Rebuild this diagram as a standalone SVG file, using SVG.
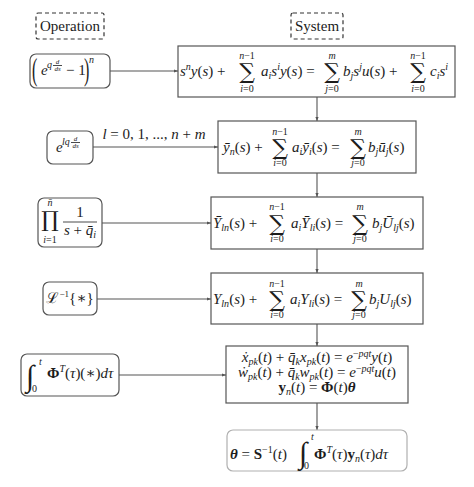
<svg xmlns="http://www.w3.org/2000/svg" width="474" height="487" viewBox="0 0 474 487">
<style>
text{font-family:'Liberation Serif','DejaVu Serif',serif;fill:#1c1c1c}
.m{font-size:15px}
.i{font-style:italic}
.s{font-size:10px}
.t{font-size:7px}
.lim{font-size:10px;text-anchor:middle}
.big{font-family:'DejaVu Serif',serif;font-size:22px;text-anchor:middle}
.int{font-size:30px}
.b{font-weight:bold}
.bi{font-weight:bold;font-style:italic}
.box{fill:#fff;stroke:#555;stroke-width:1.2}
.op{fill:#fff;stroke:#555;stroke-width:1.2}
.dash{fill:none;stroke:#333;stroke-width:1.2;stroke-dasharray:4 3}
.fin{fill:#fff;stroke:#b0b0b0;stroke-width:1.2}
.c{fill:none;stroke:#555;stroke-width:1.1}
.bar{stroke:#1c1c1c;stroke-width:0.8}
</style>
<defs>
<marker id="ah" viewBox="0 0 6 6" refX="6" refY="3" markerWidth="4" markerHeight="4" orient="auto" markerUnits="userSpaceOnUse">
<path d="M0,0.6 L6,3 L0,5.4 Z" fill="#555"/>
</marker>
</defs>
<rect width="474" height="487" fill="#fff"/>

<g id="connectors">
<line class="c" x1="110" y1="71" x2="178" y2="71" marker-end="url(#ah)"/>
<line class="c" x1="93" y1="147" x2="218" y2="147" marker-end="url(#ah)"/>
<line class="c" x1="102" y1="223" x2="211" y2="223" marker-end="url(#ah)"/>
<line class="c" x1="97" y1="299" x2="211" y2="299" marker-end="url(#ah)"/>
<line class="c" x1="119" y1="375" x2="226" y2="375" marker-end="url(#ah)"/>
<line class="c" x1="317" y1="97" x2="317" y2="121" marker-end="url(#ah)"/>
<line class="c" x1="317" y1="173" x2="317" y2="197" marker-end="url(#ah)"/>
<line class="c" x1="317" y1="249" x2="317" y2="273" marker-end="url(#ah)"/>
<line class="c" x1="317" y1="324" x2="317" y2="346" marker-end="url(#ah)"/>
<line class="c" x1="317" y1="403" x2="317" y2="430" marker-end="url(#ah)"/>
<text class="m" x="154" y="139" text-anchor="middle"><tspan class="i">l</tspan> = 0, 1, ..., <tspan class="i">n</tspan> + <tspan class="i">m</tspan></text>
</g>

<g id="title-operation">
<rect class="dash" x="36" y="13" width="68" height="26" rx="2"/>
<text class="m" x="70" y="31" text-anchor="middle" font-size="14.5">Operation</text>
</g>
<g id="title-system">
<rect class="dash" x="291" y="13" width="52" height="26" rx="2"/>
<text class="m" x="317" y="31" text-anchor="middle" font-size="14.5">System</text>
</g>

<g id="op1">
<rect class="op" x="30" y="54" width="80" height="34" rx="6"/>
<text font-size="32" transform="translate(32,80) scale(0.5,1)">(</text>
<text class="m i" x="41" y="75">e</text>
<text class="s i" x="47" y="68">q</text>
<text class="t i" x="57.5" y="63.5" text-anchor="middle">d</text>
<line class="bar" x1="53" y1="65.5" x2="62" y2="65.5"/>
<text class="t i" x="57.5" y="71" text-anchor="middle">ds</text>
<text class="m" x="66" y="75">− 1</text>
<text font-size="32" transform="translate(84,80) scale(0.5,1)">)</text>
<text class="s i" x="89" y="63">n</text>
</g>

<g id="op2">
<rect class="op" x="47" y="131" width="46" height="33" rx="6"/>
<text class="m i" x="56" y="152">e</text>
<text class="s i" x="62" y="145">lq</text>
<text class="t i" x="75.5" y="140.5" text-anchor="middle">d</text>
<line class="bar" x1="71" y1="142.5" x2="80" y2="142.5"/>
<text class="t i" x="75.5" y="148" text-anchor="middle">ds</text>
</g>

<g id="op3">
<rect class="op" x="38" y="198" width="64" height="49" rx="6"/>
<text class="big" x="50" y="227">∏</text>
<text class="lim i" x="50" y="206" font-size="9">n̄</text>
<text class="lim" x="50" y="243" font-size="9"><tspan class="i">i</tspan>=1</text>
<text class="m" x="80" y="217" text-anchor="middle">1</text>
<line class="bar" x1="63" y1="222" x2="97" y2="222"/>
<text class="m" x="80" y="235" text-anchor="middle"><tspan class="i">s</tspan> + <tspan class="i">q̄</tspan><tspan class="s i" dy="3">i</tspan></text>
</g>

<g id="op4">
<rect class="op" x="43" y="282" width="54" height="33" rx="6"/>
<text class="m" x="70" y="303" text-anchor="middle">ℒ<tspan font-size="9" dy="-6">−1</tspan><tspan dy="6">{∗}</tspan></text>
</g>

<g id="op5">
<rect class="op" x="21" y="354" width="98" height="42" rx="6"/>
<text class="int" x="26" y="386">∫</text>
<text class="s i" x="39" y="365">t</text>
<text class="s" x="32" y="392">0</text>
<text class="m" x="47" y="378"><tspan class="b">Φ</tspan><tspan class="s i" dy="-6">T</tspan><tspan dy="6">(</tspan><tspan class="i">τ</tspan>)(∗)<tspan class="i">dτ</tspan></text>
</g>

<g id="sys1">
<rect class="box" x="178" y="46" width="277" height="51"/>
<text class="m" x="180" y="76"><tspan class="i">s</tspan><tspan class="s i" dy="-6">n</tspan><tspan class="i" dy="6">y</tspan>(<tspan class="i">s</tspan>) +</text>
<text class="big" x="247" y="79">∑</text>
<text class="lim" x="247" y="59"><tspan class="i">n</tspan>−1</text>
<text class="lim" x="247" y="92"><tspan class="i">i</tspan>=0</text>
<text class="m" x="261" y="76"><tspan class="i">a</tspan><tspan class="s i" dy="3">i</tspan><tspan class="i" dy="-3">s</tspan><tspan class="s i" dy="-6">i</tspan><tspan class="i" dy="6">y</tspan>(<tspan class="i">s</tspan>) =</text>
<text class="big" x="332" y="79">∑</text>
<text class="lim i" x="332" y="59">m</text>
<text class="lim" x="332" y="92"><tspan class="i">j</tspan>=0</text>
<text class="m" x="343" y="76"><tspan class="i">b</tspan><tspan class="s i" dy="3">j</tspan><tspan class="i" dy="-3">s</tspan><tspan class="s i" dy="-6">j</tspan><tspan class="i" dy="6">u</tspan>(<tspan class="i">s</tspan>) +</text>
<text class="big" x="418" y="79">∑</text>
<text class="lim" x="418" y="59"><tspan class="i">n</tspan>−1</text>
<text class="lim" x="418" y="92"><tspan class="i">i</tspan>=0</text>
<text class="m" x="430" y="76"><tspan class="i">c</tspan><tspan class="s i" dy="3">i</tspan><tspan class="i" dy="-3">s</tspan><tspan class="s i" dy="-6">i</tspan></text>
</g>

<g id="sys2">
<rect class="box" x="218" y="121" width="198" height="52"/>
<text class="m" x="223" y="152"><tspan class="i">ȳ</tspan><tspan class="s i" dy="3">n</tspan><tspan dy="-3">(</tspan><tspan class="i">s</tspan>) +</text>
<text class="big" x="280" y="155">∑</text>
<text class="lim" x="280" y="135"><tspan class="i">n</tspan>−1</text>
<text class="lim" x="280" y="166"><tspan class="i">i</tspan>=0</text>
<text class="m" x="292" y="152"><tspan class="i">a</tspan><tspan class="s i" dy="3">i</tspan><tspan class="i" dy="-3">ȳ</tspan><tspan class="s i" dy="3">i</tspan><tspan dy="-3">(</tspan><tspan class="i">s</tspan>) =</text>
<text class="big" x="358" y="155">∑</text>
<text class="lim i" x="358" y="135">m</text>
<text class="lim" x="358" y="166"><tspan class="i">j</tspan>=0</text>
<text class="m" x="368" y="152"><tspan class="i">b</tspan><tspan class="s i" dy="3">j</tspan><tspan class="i" dy="-3">ū</tspan><tspan class="s i" dy="3">j</tspan><tspan dy="-3">(</tspan><tspan class="i">s</tspan>)</text>
</g>

<g id="sys3">
<rect class="box" x="211" y="197" width="212" height="52"/>
<text class="m" x="213" y="228"><tspan class="i">Ȳ</tspan><tspan class="s i" dy="3">ln</tspan><tspan dy="-3">(</tspan><tspan class="i">s</tspan>) +</text>
<text class="big" x="277" y="231">∑</text>
<text class="lim" x="277" y="210"><tspan class="i">n</tspan>−1</text>
<text class="lim" x="277" y="242"><tspan class="i">i</tspan>=0</text>
<text class="m" x="291" y="228"><tspan class="i">a</tspan><tspan class="s i" dy="3">i</tspan><tspan class="i" dy="-3">Ȳ</tspan><tspan class="s i" dy="3">li</tspan><tspan dy="-3">(</tspan><tspan class="i">s</tspan>) =</text>
<text class="big" x="360" y="231">∑</text>
<text class="lim i" x="360" y="210">m</text>
<text class="lim" x="360" y="242"><tspan class="i">j</tspan>=0</text>
<text class="m" x="372" y="228"><tspan class="i">b</tspan><tspan class="s i" dy="3">j</tspan><tspan class="i" dy="-3">Ū</tspan><tspan class="s i" dy="3">lj</tspan><tspan dy="-3">(</tspan><tspan class="i">s</tspan>)</text>
</g>

<g id="sys4">
<rect class="box" x="211" y="273" width="212" height="51"/>
<text class="m" x="213" y="304"><tspan class="i">Y</tspan><tspan class="s i" dy="3">ln</tspan><tspan dy="-3">(</tspan><tspan class="i">s</tspan>) +</text>
<text class="big" x="277" y="307">∑</text>
<text class="lim" x="277" y="287"><tspan class="i">n</tspan>−1</text>
<text class="lim" x="277" y="318"><tspan class="i">i</tspan>=0</text>
<text class="m" x="290" y="304"><tspan class="i">a</tspan><tspan class="s i" dy="3">i</tspan><tspan class="i" dy="-3">Y</tspan><tspan class="s i" dy="3">li</tspan><tspan dy="-3">(</tspan><tspan class="i">s</tspan>) =</text>
<text class="big" x="359" y="307">∑</text>
<text class="lim i" x="359" y="287">m</text>
<text class="lim" x="359" y="318"><tspan class="i">j</tspan>=0</text>
<text class="m" x="369" y="304"><tspan class="i">b</tspan><tspan class="s i" dy="3">j</tspan><tspan class="i" dy="-3">U</tspan><tspan class="s i" dy="3">lj</tspan><tspan dy="-3">(</tspan><tspan class="i">s</tspan>)</text>
</g>

<g id="sys5">
<rect class="box" x="226" y="346" width="182" height="57"/>
<text class="m" x="317" y="362" text-anchor="middle"><tspan class="i">ẋ</tspan><tspan class="s i" dy="3">pk</tspan><tspan dy="-3">(</tspan><tspan class="i">t</tspan>) + <tspan class="i">q̄</tspan><tspan class="s i" dy="3">k</tspan><tspan class="i" dy="-3">x</tspan><tspan class="s i" dy="3">pk</tspan><tspan dy="-3">(</tspan><tspan class="i">t</tspan>) = <tspan class="i">e</tspan><tspan class="s" dy="-5">−<tspan class="i">pqt</tspan></tspan><tspan class="i" dy="5">y</tspan>(<tspan class="i">t</tspan>)</text>
<text class="m" x="317" y="377" text-anchor="middle"><tspan class="i">ẇ</tspan><tspan class="s i" dy="3">pk</tspan><tspan dy="-3">(</tspan><tspan class="i">t</tspan>) + <tspan class="i">q̄</tspan><tspan class="s i" dy="3">k</tspan><tspan class="i" dy="-3">w</tspan><tspan class="s i" dy="3">pk</tspan><tspan dy="-3">(</tspan><tspan class="i">t</tspan>) = <tspan class="i">e</tspan><tspan class="s" dy="-5">−<tspan class="i">pqt</tspan></tspan><tspan class="i" dy="5">u</tspan>(<tspan class="i">t</tspan>)</text>
<text class="m" x="317" y="392" text-anchor="middle"><tspan class="b">y</tspan><tspan class="s i" dy="3">n</tspan><tspan dy="-3">(</tspan><tspan class="i">t</tspan>) = <tspan class="b">Φ</tspan>(<tspan class="i">t</tspan>)<tspan class="bi">θ</tspan></text>
</g>

<g id="sys6">
<rect class="fin" x="227" y="430" width="180" height="41" rx="6"/>
<text class="m" x="230" y="459"><tspan class="bi">θ</tspan> = <tspan class="b">S</tspan><tspan class="s" dy="-6">−1</tspan><tspan dy="6">(</tspan><tspan class="i">t</tspan>)</text>
<text class="int" x="299" y="463">∫</text>
<text class="s i" x="311" y="440">t</text>
<text class="s" x="304" y="469">0</text>
<text class="m" x="314" y="459"><tspan class="b">Φ</tspan><tspan class="s i" dy="-6">T</tspan><tspan dy="6">(</tspan><tspan class="i">τ</tspan>)<tspan class="b">y</tspan><tspan class="s i" dy="3">n</tspan><tspan dy="-3">(</tspan><tspan class="i">τ</tspan>)<tspan class="i">dτ</tspan></text>
</g>
</svg>
